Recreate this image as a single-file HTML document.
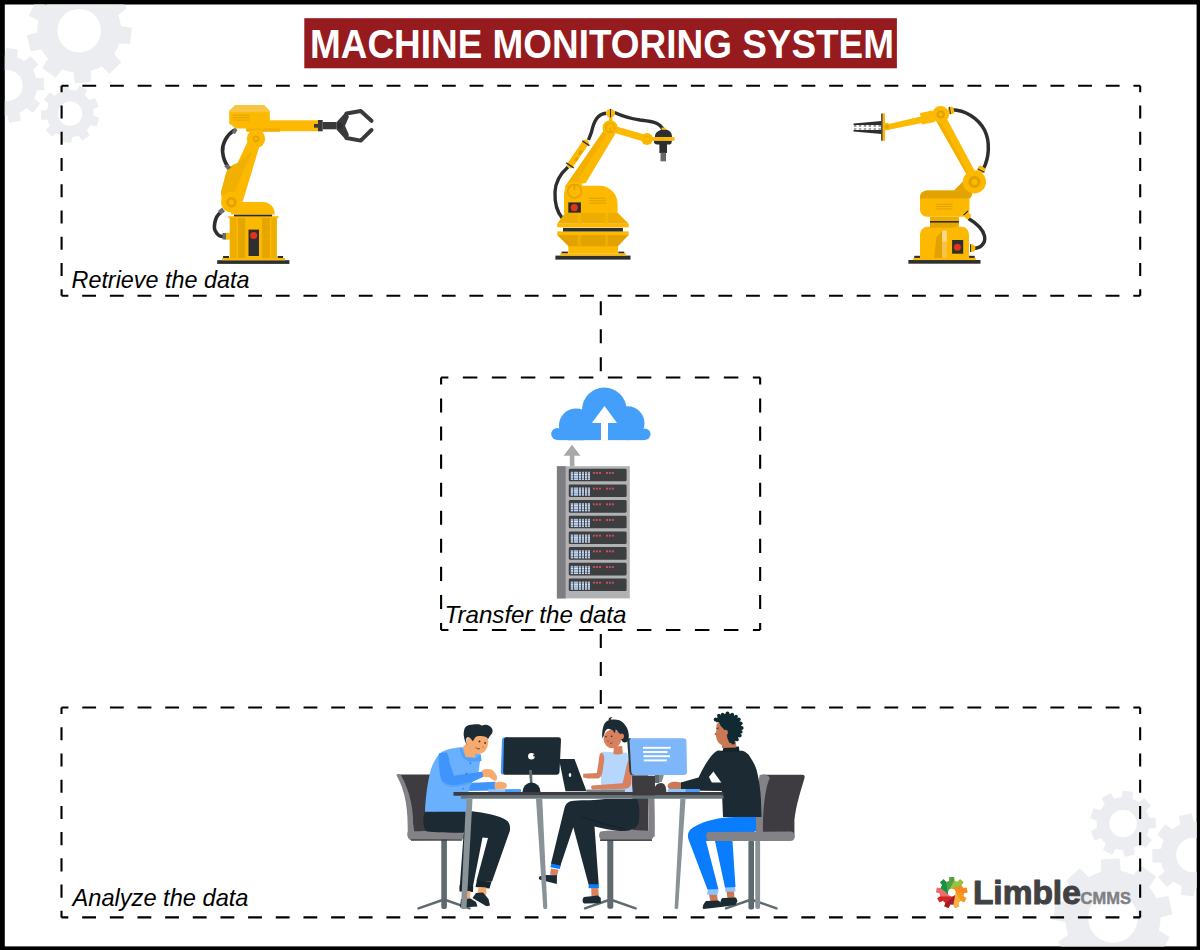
<!DOCTYPE html>
<html><head><meta charset="utf-8"><title>Machine Monitoring System</title>
<style>
html,body{margin:0;padding:0;background:#000;}
body{width:1200px;height:950px;overflow:hidden;position:relative;font-family:"Liberation Sans",sans-serif;}
#page{position:absolute;left:0;top:0;width:1200px;height:950px;}
svg text{font-family:"Liberation Sans",sans-serif;}
</style></head><body>
<svg id="page" width="1200" height="950" viewBox="0 0 1200 950">
<rect x="0" y="0" width="1200" height="950" fill="#000"/>
<rect x="4.8" y="4.5" width="1191.8" height="941.9" fill="#fff"/>
<g clip-path="url(#inner)">
<path fill="#ecedf0" fill-rule="evenodd" d="M120.95 26.1L131.76 27.8 L130.11 44.11 L119.17 43.61A42 42 0 0 1 114.14 54.01L121.33 62.26 L109.57 73.7 L101.52 66.28A42 42 0 0 1 90.98 71.01L91.19 81.96 L74.83 83.16 L73.43 72.3A42 42 0 0 1 62.31 69.16L55.43 77.67 L42.13 68.08 L48.04 58.86A42 42 0 0 1 41.55 49.31L30.8 51.41 L26.78 35.51 L37.23 32.24A42 42 0 0 1 38.4 20.75L28.81 15.45 L35.95 0.69 L46.06 4.9A42 42 0 0 1 54.34 -3.15L50.4 -13.37 L65.36 -20.09 L70.39 -10.37A42 42 0 0 1 81.91 -11.21L85.47 -21.57 L101.25 -17.1 L98.85 -6.42A42 42 0 0 1 108.22 0.34L117.6 -5.31 L126.82 8.25 L118.11 14.89A42 42 0 0 1 120.95 26.1 ZM57.4 30.7 A21.8 21.8 0 1 0 101 30.7 A21.8 21.8 0 1 0 57.4 30.7 Z"/>
<path fill="#ecedf0" fill-rule="evenodd" d="M36.16 77.93L43.99 78.02 L44.5 89.74 L36.71 90.51A30.03 30.03 0 0 1 34.23 98.38L40.17 103.48 L33.03 112.79 L26.57 108.37A30.03 30.03 0 0 1 19.6 112.81L20.87 120.53 L9.42 123.07 L7.31 115.53A30.03 30.03 0 0 1 -0.88 114.45L-4.87 121.19 L-15.27 115.77 L-12.04 108.64A30.03 30.03 0 0 1 -17.62 102.55L-25.01 105.14 L-29.49 94.31 L-22.44 90.92A30.03 30.03 0 0 1 -22.8 82.67L-30.12 79.91 L-26.6 68.73 L-19.01 70.67A30.03 30.03 0 0 1 -13.98 64.12L-17.82 57.29 L-7.93 50.99 L-3.37 57.35A30.03 30.03 0 0 1 4.69 55.57L6.14 47.87 L17.77 49.4 L17.17 57.21A30.03 30.03 0 0 1 24.5 61.02L30.55 56.06 L38.47 64.7 L33 70.3A30.03 30.03 0 0 1 36.16 77.93 ZM-8.49 85.5 A15.59 15.59 0 1 0 22.69 85.5 A15.59 15.59 0 1 0 -8.49 85.5 Z"/>
<path fill="#ecedf0" fill-rule="evenodd" d="M93.53 115.61L99.29 117.72 L96.61 126.51 L90.65 125.04A23.52 23.52 0 0 1 86.76 130.2L89.81 135.52 L82.11 140.52 L78.49 135.57A23.52 23.52 0 0 1 72.19 137.03L71.11 143.06 L61.99 141.94 L62.41 135.83A23.52 23.52 0 0 1 56.64 132.89L51.93 136.82 L45.67 130.1 L49.92 125.68A23.52 23.52 0 0 1 47.39 119.72L41.26 119.71 L40.78 110.54 L46.88 109.88A23.52 23.52 0 0 1 48.77 103.7L44.08 99.74 L49.61 92.41 L54.7 95.82A23.52 23.52 0 0 1 60.12 92.3L59.08 86.26 L68.02 84.19 L69.73 90.08A23.52 23.52 0 0 1 76.15 90.87L79.23 85.57 L87.41 89.74 L84.93 95.35A23.52 23.52 0 0 1 89.34 100.08L95.11 97.99 L98.7 106.45 L93.2 109.15A23.52 23.52 0 0 1 93.53 115.61 ZM57.89 113.6 A12.21 12.21 0 1 0 82.31 113.6 A12.21 12.21 0 1 0 57.89 113.6 Z"/>
<path fill="#ecedf0" fill-rule="evenodd" d="M1148.82 817.38L1155.71 817.58 L1155.98 827.91 L1149.11 828.46A26.46 26.46 0 0 1 1146.8 835.37L1151.95 839.95 L1145.52 848.04 L1139.9 844.04A26.46 26.46 0 0 1 1133.69 847.85L1134.69 854.67 L1124.57 856.73 L1122.83 850.06A26.46 26.46 0 0 1 1115.63 848.98L1112.01 854.86 L1102.93 849.93 L1105.88 843.69A26.46 26.46 0 0 1 1101.06 838.24L1094.51 840.41 L1090.73 830.8 L1097 827.92A26.46 26.46 0 0 1 1096.81 820.65L1090.39 818.1 L1093.67 808.31 L1100.32 810.13A26.46 26.46 0 0 1 1104.85 804.44L1101.58 798.37 L1110.39 792.97 L1114.31 798.64A26.46 26.46 0 0 1 1121.44 797.19L1122.83 790.44 L1133.05 791.96 L1132.41 798.83A26.46 26.46 0 0 1 1138.8 802.3L1144.21 798.02 L1151.06 805.76 L1146.15 810.61A26.46 26.46 0 0 1 1148.82 817.38 ZM1109.37 823.6 A13.73 13.73 0 1 0 1136.83 823.6 A13.73 13.73 0 1 0 1109.37 823.6 Z"/>
<path fill="#ecedf0" fill-rule="evenodd" d="M1161.14 862.74L1152.49 862.48 L1152.17 849.53 L1160.8 848.84A33.18 33.18 0 0 1 1163.71 840.19L1157.25 834.43 L1165.34 824.31 L1172.38 829.33A33.18 33.18 0 0 1 1180.17 824.57L1178.93 816.01 L1191.63 813.45 L1193.8 821.82A33.18 33.18 0 0 1 1202.83 823.19L1207.38 815.83 L1218.75 822.03 L1215.03 829.84A33.18 33.18 0 0 1 1221.07 836.69L1229.28 833.98 L1234.01 846.04 L1226.14 849.63A33.18 33.18 0 0 1 1226.37 858.76L1234.4 861.96 L1230.27 874.24 L1221.93 871.94A33.18 33.18 0 0 1 1216.24 879.07L1220.33 886.69 L1209.27 893.44 L1204.37 886.31A33.18 33.18 0 0 1 1195.42 888.12L1193.66 896.59 L1180.85 894.65 L1181.67 886.04A33.18 33.18 0 0 1 1173.66 881.67L1166.87 887.03 L1158.3 877.31 L1164.47 871.24A33.18 33.18 0 0 1 1161.14 862.74 ZM1176.18 855 A17.22 17.22 0 1 0 1210.62 855 A17.22 17.22 0 1 0 1176.18 855 Z"/>
<path fill="#ecedf0" fill-rule="evenodd" d="M1100.81 871.89L1100.93 859.46 L1119.52 858.62 L1120.76 870.98A47.67 47.67 0 0 1 1133.28 874.9L1141.35 865.46 L1156.14 876.77 L1149.15 887.04A47.67 47.67 0 0 1 1156.21 898.08L1168.47 896.04 L1172.53 914.21 L1160.57 917.58A47.67 47.67 0 0 1 1158.88 930.58L1169.58 936.9 L1161.02 953.42 L1149.69 948.32A47.67 47.67 0 0 1 1140.03 957.19L1144.17 968.91 L1126.99 976.06 L1121.59 964.87A47.67 47.67 0 0 1 1108.49 965.47L1104.13 977.1 L1086.37 971.54 L1089.43 959.49A47.67 47.67 0 0 1 1079.01 951.53L1068.19 957.64 L1058.16 941.96 L1068.25 934.7A47.67 47.67 0 0 1 1065.39 921.9L1053.17 919.63 L1055.57 901.17 L1067.96 902.09A47.67 47.67 0 0 1 1074 890.45L1066.1 880.86 L1079.8 868.26 L1088.7 876.93A47.67 47.67 0 0 1 1100.81 871.89 ZM1088.16 918 A24.74 24.74 0 1 0 1137.64 918 A24.74 24.74 0 1 0 1088.16 918 Z"/>
</g>
<clipPath id="inner"><rect x="4.8" y="4.5" width="1191.8" height="941.9"/></clipPath>
<rect x="304.3" y="18.2" width="592.6" height="50.1" fill="#961b1f"/>
<text x="602" y="57.5" text-anchor="middle" font-size="40" font-weight="bold" fill="#fff" textLength="584" lengthAdjust="spacingAndGlyphs">MACHINE MONITORING SYSTEM</text>
<g stroke="#000" stroke-width="2.1" fill="none">
<line x1="61.6" y1="85.8" x2="1140.2" y2="85.8" stroke-dasharray="13.83 13.83" stroke-dashoffset="6.91"/>
<line x1="1140.2" y1="85.8" x2="1140.2" y2="295.7" stroke-dasharray="13.12 13.12" stroke-dashoffset="6.56"/>
<line x1="1140.2" y1="295.7" x2="61.6" y2="295.7" stroke-dasharray="13.83 13.83" stroke-dashoffset="6.91"/>
<line x1="61.6" y1="295.7" x2="61.6" y2="85.8" stroke-dasharray="13.12 13.12" stroke-dashoffset="6.56"/>
<line x1="441.1" y1="377.5" x2="760.15" y2="377.5" stroke-dasharray="14.5 14.5" stroke-dashoffset="7.25"/>
<line x1="760.15" y1="377.5" x2="760.15" y2="630" stroke-dasharray="14.03 14.03" stroke-dashoffset="7.01"/>
<line x1="760.15" y1="630" x2="441.1" y2="630" stroke-dasharray="14.5 14.5" stroke-dashoffset="7.25"/>
<line x1="441.1" y1="630" x2="441.1" y2="377.5" stroke-dasharray="14.03 14.03" stroke-dashoffset="7.01"/>
<line x1="61.5" y1="707.5" x2="1140.15" y2="707.5" stroke-dasharray="13.83 13.83" stroke-dashoffset="6.91"/>
<line x1="1140.15" y1="707.5" x2="1140.15" y2="917.4" stroke-dasharray="13.12 13.12" stroke-dashoffset="6.56"/>
<line x1="1140.15" y1="917.4" x2="61.5" y2="917.4" stroke-dasharray="13.83 13.83" stroke-dashoffset="6.91"/>
<line x1="61.5" y1="917.4" x2="61.5" y2="707.5" stroke-dasharray="13.12 13.12" stroke-dashoffset="6.56"/>
<line x1="600.8" y1="301.3" x2="600.8" y2="371.3" stroke-dasharray="14 14"/>
<line x1="600.8" y1="634" x2="600.8" y2="704" stroke-dasharray="14 14"/>
</g>
<text x="71.5" y="287.6" font-size="24" font-style="italic" fill="#000" textLength="178" lengthAdjust="spacingAndGlyphs">Retrieve the data</text>
<text x="444.5" y="622.5" font-size="24" font-style="italic" fill="#000" textLength="182" lengthAdjust="spacingAndGlyphs">Transfer the data</text>
<text x="72.5" y="905.8" font-size="24" font-style="italic" fill="#000" textLength="176" lengthAdjust="spacingAndGlyphs">Analyze the data</text>
<g id="robot1">
<!-- cables -->
<path d="M234.5 130 C226.5 135 221.8 144 222.6 152 C223.3 158 225.3 163 227.6 166" fill="none" stroke="#2e2e30" stroke-width="3.6"/>
<path d="M220.8 212.5 C214 217 213.2 229 216 232 C217.5 235 220 236.5 223 236.5" fill="none" stroke="#2e2e30" stroke-width="3.6"/>
<!-- base plate -->
<rect x="217.2" y="260.2" width="72.2" height="3.7" fill="#2e2e30"/>
<rect x="223.1" y="256" width="5.9" height="2.2" fill="#2e2e30"/>
<rect x="277.6" y="256" width="5.5" height="2.2" fill="#2e2e30"/>
<rect x="222" y="258" width="63" height="2.3" fill="#fcb900"/>
<!-- column -->
<rect x="229.7" y="217.8" width="47.2" height="40.3" fill="#efad00"/>
<rect x="236.4" y="217.8" width="1.8" height="40.3" fill="#fcb900"/>
<rect x="238.2" y="217.8" width="7" height="40.3" fill="#e6a600"/>
<rect x="245.2" y="217.8" width="16.9" height="40.3" fill="#fcb900"/>
<rect x="262.1" y="217.8" width="7.8" height="40.3" fill="#e6a600"/>
<rect x="269.9" y="217.8" width="1.5" height="40.3" fill="#fcb900"/>
<rect x="228.3" y="216.2" width="50.1" height="1.9" fill="#fcb900"/>
<rect x="234" y="214.4" width="38.1" height="2" fill="#2e2e30"/>
<rect x="248.5" y="229.6" width="10.5" height="26.4" fill="#2e2e30"/>
<circle cx="253.7" cy="235.4" r="3.5" fill="#e0341e"/>
<rect x="224.6" y="232.9" width="5.2" height="6.7" fill="#fcb900"/>
<!-- cable caps -->
<path d="M222.5 233 L226 233 L226 239.5 L222.5 239.5 Z" fill="#6b6b6d"/>
<path d="M218 211 L222 207.5 L225 211.5 L221 214.5 Z" fill="#6b6b6d"/>
<!-- turret dome -->
<path d="M231.2 214.5 L231.2 202 L263 202 A11.7 11.7 0 0 1 274.7 213.7 L274.7 214.5 Z" fill="#fcb900"/>
<!-- lower arm -->
<path d="M247.9 141 L259.3 146.8 L242.7 201.8 L222 203 L221 192 L226.3 172.5 C227.5 168.8 230.5 166 233.5 164.8 L237.5 162.9 Z" fill="#fcb900"/>
<path d="M226.3 172.5 C227.5 168.8 230.5 166 233.5 164.8 L237.5 162.9 L251.7 151.5 L235.1 191.4 L222 196 L221 192 Z" fill="#f2b000"/>
<circle cx="231.4" cy="202.2" r="10.4" fill="#fcb900"/>
<circle cx="231.4" cy="202.2" r="3.9" fill="none" stroke="#e2a300" stroke-width="2.6"/>
<!-- head + forearm -->
<rect x="246" y="120.3" width="72" height="10.9" fill="#fcb900"/>
<rect x="247" y="128.2" width="33" height="3.6" fill="#f0ae00"/>
<path d="M235.3 105.1 L263.9 105.1 L269.8 111 L269.8 123.6 L262 128.5 L236 128.5 L229.2 123.6 L229.2 111 Z" fill="#fcb900"/>
<path d="M235.3 105.1 L263.9 105.1 L269.8 111 L269.8 112.3 L229.2 112.3 L229.2 111 Z" fill="#f8c544"/>
<g stroke="#e2a300" stroke-width="1"><line x1="232.8" y1="115.2" x2="249.6" y2="115.2"/><line x1="232.8" y1="117.6" x2="249.6" y2="117.6"/><line x1="232.8" y1="120.1" x2="249.6" y2="120.1"/></g>
<circle cx="256" cy="138.7" r="9.2" fill="#fcb900"/>
<circle cx="256" cy="138.7" r="2.5" fill="none" stroke="#e2a300" stroke-width="1.4"/>
<path d="M231.8 132.6 L234.5 127.4 L237.5 130 L235 134 Z" fill="#6b6b6d"/>
<path d="M224.2 166 L228 163.9 L231.3 167.5 L227.5 170 Z" fill="#6b6b6d"/>
<!-- gripper -->
<rect x="318" y="120" width="4.7" height="11.3" fill="#3a3a3c"/>
<rect x="314" y="124" width="5" height="3.7" fill="#3a3a3c"/>
<rect x="322.7" y="122" width="14" height="7.3" fill="#3a3a3c"/>
<path d="M336.7 122 L346 111.7 L349 116.7 L345 125.7 L349 135 L346 140 L336.7 129.7 Z" fill="#3a3a3c"/>
<path d="M346.5 113.5 L360.7 111 L371.5 120.8" fill="none" stroke="#3a3a3c" stroke-width="4" stroke-linecap="round" stroke-linejoin="round"/>
<path d="M346.5 138 L360.7 140.6 L371.5 130" fill="none" stroke="#3a3a3c" stroke-width="4" stroke-linecap="round" stroke-linejoin="round"/>
<circle cx="339.7" cy="125.7" r="3" fill="#2e2e30"/>
</g>

<g id="robot2">
<!-- cables -->
<path d="M606.3 113.3 C598 114 594 120 591.5 132 L588.5 140" fill="none" stroke="#2e2e30" stroke-width="3.4"/>
<path d="M568 167 C560 174 555.5 181 555 192 C554.5 204 557 212 562.5 218.5" fill="none" stroke="#2e2e30" stroke-width="3.4"/>
<path d="M614.5 112.5 C622 116 630 118.5 640 120 C652 121.5 660 122 663.2 130" fill="none" stroke="#2e2e30" stroke-width="3.4"/>
<!-- base plate -->
<rect x="555.4" y="255.6" width="75.1" height="4" fill="#2e2e30"/>
<rect x="561.6" y="251.6" width="6.3" height="2" fill="#2e2e30"/>
<rect x="618.4" y="251.6" width="5.9" height="2" fill="#2e2e30"/>
<rect x="560.3" y="253.4" width="65.7" height="2.3" fill="#fcb900"/>
<!-- lower base -->
<rect x="568.3" y="246" width="49.7" height="7.5" fill="#fcb900"/>
<path d="M557.2 235 L628.7 235 L618 246.2 L568.3 246.2 Z" fill="#e2a300"/>
<rect x="577.7" y="235" width="3.2" height="11.2" fill="#efad00"/>
<rect x="605" y="235" width="3.2" height="11.2" fill="#efad00"/>
<rect x="557.2" y="231.4" width="71.5" height="3.7" fill="#fcb900"/>
<rect x="563" y="227.9" width="59.9" height="3.6" fill="#2e2e30"/>
<!-- upper base -->
<rect x="557.2" y="223.8" width="71.5" height="3.6" fill="#fcb900"/>
<path d="M565 213.1 L618 213.1 L628.7 223.8 L557.2 223.8 Z" fill="#efad00"/>
<rect x="577.7" y="213.1" width="3.2" height="10.7" fill="#f7b500"/>
<rect x="605" y="213.1" width="3.2" height="10.7" fill="#f7b500"/>
<!-- turret body -->
<path d="M564 213.1 L564 192 L574 185.8 L599.6 185.8 A18 18 0 0 1 617.6 203.8 L617.6 213.1 Z" fill="#fcb900"/>
<g stroke="#e2a300" stroke-width="1.1"><line x1="588.9" y1="198.3" x2="605.9" y2="198.3"/><line x1="588.9" y1="200.7" x2="605.9" y2="200.7"/><line x1="588.9" y1="203.1" x2="605.9" y2="203.1"/></g>
<rect x="568.3" y="202.4" width="12.6" height="10.3" fill="#2e2e30"/>
<circle cx="574.3" cy="207.6" r="3.6" fill="#e0341e"/>
<!-- lower arm -->
<path d="M564.6 187.3 L603.1 131.5 L615 134.3 L585.8 183 Z" fill="#fcb900"/>
<path d="M564.6 187.3 L603.1 131.5 L608 132.6 L574 186 Z" fill="#f4b000"/>
<circle cx="574.5" cy="191.2" r="9.9" fill="#fcb900"/>
<circle cx="574.5" cy="191.2" r="6.8" fill="none" stroke="#e2a300" stroke-width="1.5"/>
<line x1="574.5" y1="184.4" x2="574.5" y2="190" stroke="#e2a300" stroke-width="1.5"/>
<!-- cable sleeve -->
<line x1="585.5" y1="143" x2="570.3" y2="164.9" stroke="#fcb900" stroke-width="6.6" stroke-linecap="round"/>
<line x1="581.6" y1="150.6" x2="578.9" y2="154.5" stroke="#e2a300" stroke-width="3"/>
<line x1="577.6" y1="157.5" x2="575.2" y2="161" stroke="#e2a300" stroke-width="3"/>
<line x1="582.3" y1="140.9" x2="589.4" y2="145.6" stroke="#2e2e30" stroke-width="1.3"/>
<line x1="566.2" y1="162.7" x2="573.7" y2="167.9" stroke="#2e2e30" stroke-width="1.3"/>
<!-- top connector -->
<rect x="609" y="115" width="3.3" height="8" fill="#fcb900"/>
<ellipse cx="610.5" cy="113.2" rx="4.4" ry="4.2" fill="#fcb900"/>
<line x1="610.5" y1="109" x2="610.5" y2="117.4" stroke="#2e2e30" stroke-width="1.1"/>
<!-- forearm -->
<path d="M609.5 124.5 L648 135.5 L646 142.2 L608 131 Z" fill="#fcb900"/>
<circle cx="610.1" cy="127.8" r="7.6" fill="#fcb900"/>
<circle cx="610.1" cy="127.8" r="4.6" fill="none" stroke="#e2a300" stroke-width="1.1"/>
<line x1="610.1" y1="128" x2="610.1" y2="132.4" stroke="#e2a300" stroke-width="1.1"/>
<!-- end effector -->
<path d="M655 137 C655 133 657 131.5 659.5 130.5 C661 129.5 662.5 129.2 664 129.2 C666 129.2 668 130 670 131.5 C671.5 133 672 135 672 137 Z" fill="#2e2e30"/>
<path d="M654 140.5 L672 140.5 L671.5 143 C671 144 670 144.5 668.5 144.5 L657 144.5 C655.5 144.5 654.5 143.5 654 142.5 Z" fill="#2e2e30"/>
<rect x="661.5" y="127.6" width="4" height="2.2" fill="#fcb900"/>
<rect x="659.4" y="144" width="7.6" height="9" fill="#2e2e30"/>
<rect x="660.5" y="152.7" width="5.5" height="8.6" fill="#68686a"/>
<path d="M650 137 L673 137 A1.9 1.9 0 0 1 673 140.8 L650 140.8 Z" fill="#fcb900"/>
<rect x="661.5" y="137" width="1.6" height="3.8" fill="#efad00"/>
<circle cx="647" cy="139.1" r="6" fill="#fcb900"/>
<circle cx="647" cy="139.1" r="3" fill="none" stroke="#efad00" stroke-width="1"/>
</g>

<g id="robot3">
<!-- cables -->
<path d="M952 109.8 C965 110 978 118 984.5 130 C990.5 142 989 158 983.5 168.5" fill="none" stroke="#2e2e30" stroke-width="3.5"/>
<path d="M968.5 218.5 C976 223 983 229 984.5 236 C986 244 980 248.5 973 248.5" fill="none" stroke="#2e2e30" stroke-width="3.5"/>
<!-- base plate -->
<rect x="908.4" y="260" width="72.1" height="3.7" fill="#2e2e30"/>
<rect x="914.2" y="255.8" width="5.8" height="2.2" fill="#2e2e30"/>
<rect x="969" y="255.8" width="5.7" height="2.2" fill="#2e2e30"/>
<rect x="913.2" y="257.9" width="62.6" height="2.2" fill="#fcb900"/>
<!-- lower body -->
<path d="M920 257.9 L920 234.2 A7.4 7.4 0 0 1 927.4 226.8 L961.6 226.8 A7.4 7.4 0 0 1 969 234.2 L969 257.9 Z" fill="#fcb900"/>
<path d="M936.3 237.4 L942.1 231 L942.1 257.9 L934.2 257.9 Z" fill="#e2a300"/>
<rect x="942.1" y="230.5" width="4.7" height="27.4" fill="#f5c24c"/>
<rect x="942.1" y="230.5" width="4.7" height="11" fill="#f9d888"/>
<rect x="952.1" y="240" width="11.1" height="13.7" fill="#2e2e30"/>
<circle cx="957.4" cy="247.2" r="3.5" fill="#e0341e"/>
<!-- connector at lower cable end -->
<path d="M970 244.2 L972 244.2 A4 4 0 0 1 972 252.1 L970 252.1 Z" fill="#fcb900"/>
<line x1="970.6" y1="244.3" x2="970.6" y2="252" stroke="#2e2e30" stroke-width="1"/>
<!-- neck -->
<rect x="930" y="216.8" width="28.9" height="10.6" fill="#efad00"/>
<path d="M930 222.6 L958.9 222.6 L958.9 224 L952 227.4 L930 227.4 Z" fill="#e6a600"/>
<rect x="930" y="221" width="28.9" height="1.6" fill="#2e2e30"/>
<!-- shoulder link -->
<path d="M953.5 191 L963.1 181.2 L975 186 L971 197.5 L962 199 Z" fill="#e2a300"/>
<!-- upper body -->
<rect x="920" y="190.5" width="49.5" height="26.3" rx="7" fill="#fcb900"/>
<path d="M920 198.4 L920 197.5 A7 7 0 0 1 927 190.5 L962.5 190.5 A7 7 0 0 1 969.5 197.5 L969.5 198.4 Z" fill="#e2a300"/>
<g stroke="#e2a300" stroke-width="1.1"><line x1="936.3" y1="204.2" x2="952.6" y2="204.2"/><line x1="936.3" y1="206.5" x2="952.6" y2="206.5"/><line x1="936.3" y1="208.9" x2="952.6" y2="208.9"/></g>
<!-- lower cable connector -->
<rect x="963.2" y="212.3" width="7.6" height="6" rx="2.2" fill="#fcb900" transform="rotate(40 967 215.3)"/>
<line x1="963.6" y1="215.2" x2="968" y2="211" stroke="#2e2e30" stroke-width="1.1"/>
<!-- upper arm -->
<path d="M935 118.75 L946.9 118.75 L976.25 173.75 L966.25 173.75 Z" fill="#fcb900"/>
<path d="M935 118.75 L939.5 118.75 L969.5 175 L966.25 173.75 Z" fill="#f4b000"/>
<circle cx="974.4" cy="181.9" r="11.6" fill="#fcb900"/>
<circle cx="974.4" cy="181.9" r="4.5" fill="none" stroke="#e2a300" stroke-width="3.2"/>
<!-- upper cable connector -->
<rect x="977.5" y="166.5" width="7.6" height="6" rx="2.2" fill="#fcb900" transform="rotate(25 981.3 169.5)"/>
<line x1="977.8" y1="168.9" x2="984.5" y2="172.2" stroke="#2e2e30" stroke-width="1.1"/>
<!-- forearm -->
<path d="M921.9 116.25 L886.25 124.4 L887.5 130 L921.9 123.1 Z" fill="#fcb900"/>
<path d="M920 113.1 L932.5 110.6 L935 121.9 L921.9 124.4 Z" fill="#fcb900"/>
<circle cx="940.6" cy="114.4" r="8.4" fill="#fcb900"/>
<circle cx="940.6" cy="114.4" r="3" fill="none" stroke="#e2a300" stroke-width="2.2"/>
<rect x="948" y="106.8" width="6" height="7.4" rx="2.2" fill="#fcb900" transform="rotate(-10 951 110.5)"/>
<line x1="949.3" y1="106.9" x2="950.5" y2="114" stroke="#2e2e30" stroke-width="1.1"/>
<!-- gripper -->
<path d="M853.5 123.4 L881.5 120.9 L881.5 124.9 L853.5 124.9 Z" fill="#2e2e30"/>
<path d="M853.5 129.9 L881.5 129.9 L881.5 133.9 L853.5 131.6 Z" fill="#2e2e30"/>
<line x1="854" y1="125.9" x2="881.5" y2="125.9" stroke="#8a8a8c" stroke-width="1.6" stroke-dasharray="2.4 2.5"/>
<line x1="854" y1="129" x2="881.5" y2="129" stroke="#8a8a8c" stroke-width="1.6" stroke-dasharray="2.4 2.5"/>
<rect x="881.2" y="113.5" width="1.6" height="27.2" fill="#2e2e30"/>
<rect x="882.7" y="113.5" width="2.4" height="27.2" fill="#fcb900"/>
<circle cx="886.6" cy="126.7" r="3.6" fill="#fcb900"/>
<circle cx="886.8" cy="126.8" r="2.3" fill="#e6a600"/>
</g>

<g id="cloud">
<clipPath id="cloudclip"><rect x="540" y="380" width="120" height="60.2"/></clipPath>
<g fill="#449ffb" clip-path="url(#cloudclip)">
<circle cx="557.2" cy="434" r="6"/>
<circle cx="644.8" cy="434.3" r="5.7"/>
<circle cx="576" cy="425.6" r="17.1"/>
<circle cx="604.3" cy="409.8" r="22.3"/>
<circle cx="627.4" cy="423.3" r="17.1"/>
<rect x="557" y="429.5" width="88" height="11"/><rect x="572" y="418" width="60" height="22"/>
</g>
<path d="M604.5 406 L617 423 L608 423 L608 440.5 L601 440.5 L601 423 L591.8 423 Z" fill="#fff"/>
<path d="M572 444.8 L580.5 455.7 L574.4 455.7 L574.4 466.5 L569.8 466.5 L569.8 455.7 L563.5 455.7 Z" fill="#a9a9ab"/>
</g>

<g id="server">
<rect x="556.9" y="466.2" width="72.9" height="132.2" fill="#b1b2b4"/>
<rect x="556.9" y="466.2" width="8.7" height="132.2" fill="#7d7d81"/>
<rect x="568.8" y="468.70" width="57.8" height="12.6" rx="1.3" fill="#3e3d40"/><rect x="570.75" y="471.75" width="2.35" height="1.95" fill="#a3b9d5"/><rect x="570.75" y="473.70" width="2.35" height="1.50" fill="#cfe4fd"/><rect x="570.75" y="475.40" width="2.35" height="2.70" fill="#b2cae8"/><rect x="570.75" y="478.40" width="2.35" height="1.60" fill="#bcd3f0"/><rect x="573.90" y="471.75" width="4.20" height="1.95" fill="#a3b9d5"/><rect x="573.90" y="473.70" width="4.20" height="1.50" fill="#cfe4fd"/><rect x="573.90" y="475.40" width="4.20" height="2.70" fill="#b2cae8"/><rect x="573.90" y="478.40" width="4.20" height="1.60" fill="#bcd3f0"/><rect x="578.90" y="471.75" width="2.10" height="1.95" fill="#a3b9d5"/><rect x="578.90" y="473.70" width="2.10" height="1.50" fill="#cfe4fd"/><rect x="578.90" y="475.40" width="2.10" height="2.70" fill="#b2cae8"/><rect x="578.90" y="478.40" width="2.10" height="1.60" fill="#bcd3f0"/><rect x="581.90" y="471.75" width="2.10" height="1.95" fill="#a3b9d5"/><rect x="581.90" y="473.70" width="2.10" height="1.50" fill="#cfe4fd"/><rect x="581.90" y="475.40" width="2.10" height="2.70" fill="#b2cae8"/><rect x="581.90" y="478.40" width="2.10" height="1.60" fill="#bcd3f0"/><rect x="585.00" y="471.75" width="2.10" height="1.95" fill="#a3b9d5"/><rect x="585.00" y="473.70" width="2.10" height="1.50" fill="#cfe4fd"/><rect x="585.00" y="475.40" width="2.10" height="2.70" fill="#b2cae8"/><rect x="585.00" y="478.40" width="2.10" height="1.60" fill="#bcd3f0"/><rect x="587.90" y="471.75" width="2.10" height="1.95" fill="#a3b9d5"/><rect x="587.90" y="473.70" width="2.10" height="1.50" fill="#cfe4fd"/><rect x="587.90" y="475.40" width="2.10" height="2.70" fill="#b2cae8"/><rect x="587.90" y="478.40" width="2.10" height="1.60" fill="#bcd3f0"/><rect x="592.90" y="472.00" width="2" height="1.9" fill="#bd565b"/><rect x="595.90" y="472.00" width="2" height="1.9" fill="#c2545a"/><rect x="599.00" y="472.00" width="2" height="1.9" fill="#c2545a"/><rect x="606.00" y="472.00" width="2" height="1.9" fill="#c2545a"/><rect x="608.90" y="472.00" width="2" height="1.9" fill="#c2545a"/><rect x="611.90" y="472.00" width="2" height="1.9" fill="#c2545a"/>
<rect x="568.8" y="484.38" width="57.8" height="12.6" rx="1.3" fill="#3e3d40"/><rect x="570.75" y="487.43" width="2.35" height="1.95" fill="#a3b9d5"/><rect x="570.75" y="489.38" width="2.35" height="1.50" fill="#cfe4fd"/><rect x="570.75" y="491.08" width="2.35" height="2.70" fill="#b2cae8"/><rect x="570.75" y="494.08" width="2.35" height="1.60" fill="#bcd3f0"/><rect x="573.90" y="487.43" width="4.20" height="1.95" fill="#a3b9d5"/><rect x="573.90" y="489.38" width="4.20" height="1.50" fill="#cfe4fd"/><rect x="573.90" y="491.08" width="4.20" height="2.70" fill="#b2cae8"/><rect x="573.90" y="494.08" width="4.20" height="1.60" fill="#bcd3f0"/><rect x="578.90" y="487.43" width="2.10" height="1.95" fill="#a3b9d5"/><rect x="578.90" y="489.38" width="2.10" height="1.50" fill="#cfe4fd"/><rect x="578.90" y="491.08" width="2.10" height="2.70" fill="#b2cae8"/><rect x="578.90" y="494.08" width="2.10" height="1.60" fill="#bcd3f0"/><rect x="581.90" y="487.43" width="2.10" height="1.95" fill="#a3b9d5"/><rect x="581.90" y="489.38" width="2.10" height="1.50" fill="#cfe4fd"/><rect x="581.90" y="491.08" width="2.10" height="2.70" fill="#b2cae8"/><rect x="581.90" y="494.08" width="2.10" height="1.60" fill="#bcd3f0"/><rect x="585.00" y="487.43" width="2.10" height="1.95" fill="#a3b9d5"/><rect x="585.00" y="489.38" width="2.10" height="1.50" fill="#cfe4fd"/><rect x="585.00" y="491.08" width="2.10" height="2.70" fill="#b2cae8"/><rect x="585.00" y="494.08" width="2.10" height="1.60" fill="#bcd3f0"/><rect x="587.90" y="487.43" width="2.10" height="1.95" fill="#a3b9d5"/><rect x="587.90" y="489.38" width="2.10" height="1.50" fill="#cfe4fd"/><rect x="587.90" y="491.08" width="2.10" height="2.70" fill="#b2cae8"/><rect x="587.90" y="494.08" width="2.10" height="1.60" fill="#bcd3f0"/><rect x="592.90" y="487.68" width="2" height="1.9" fill="#bd565b"/><rect x="595.90" y="487.68" width="2" height="1.9" fill="#c2545a"/><rect x="599.00" y="487.68" width="2" height="1.9" fill="#c2545a"/><rect x="606.00" y="487.68" width="2" height="1.9" fill="#c2545a"/><rect x="608.90" y="487.68" width="2" height="1.9" fill="#c2545a"/><rect x="611.90" y="487.68" width="2" height="1.9" fill="#c2545a"/>
<rect x="568.8" y="500.06" width="57.8" height="12.6" rx="1.3" fill="#3e3d40"/><rect x="570.75" y="503.11" width="2.35" height="1.95" fill="#a3b9d5"/><rect x="570.75" y="505.06" width="2.35" height="1.50" fill="#cfe4fd"/><rect x="570.75" y="506.76" width="2.35" height="2.70" fill="#b2cae8"/><rect x="570.75" y="509.76" width="2.35" height="1.60" fill="#bcd3f0"/><rect x="573.90" y="503.11" width="4.20" height="1.95" fill="#a3b9d5"/><rect x="573.90" y="505.06" width="4.20" height="1.50" fill="#cfe4fd"/><rect x="573.90" y="506.76" width="4.20" height="2.70" fill="#b2cae8"/><rect x="573.90" y="509.76" width="4.20" height="1.60" fill="#bcd3f0"/><rect x="578.90" y="503.11" width="2.10" height="1.95" fill="#a3b9d5"/><rect x="578.90" y="505.06" width="2.10" height="1.50" fill="#cfe4fd"/><rect x="578.90" y="506.76" width="2.10" height="2.70" fill="#b2cae8"/><rect x="578.90" y="509.76" width="2.10" height="1.60" fill="#bcd3f0"/><rect x="581.90" y="503.11" width="2.10" height="1.95" fill="#a3b9d5"/><rect x="581.90" y="505.06" width="2.10" height="1.50" fill="#cfe4fd"/><rect x="581.90" y="506.76" width="2.10" height="2.70" fill="#b2cae8"/><rect x="581.90" y="509.76" width="2.10" height="1.60" fill="#bcd3f0"/><rect x="585.00" y="503.11" width="2.10" height="1.95" fill="#a3b9d5"/><rect x="585.00" y="505.06" width="2.10" height="1.50" fill="#cfe4fd"/><rect x="585.00" y="506.76" width="2.10" height="2.70" fill="#b2cae8"/><rect x="585.00" y="509.76" width="2.10" height="1.60" fill="#bcd3f0"/><rect x="587.90" y="503.11" width="2.10" height="1.95" fill="#a3b9d5"/><rect x="587.90" y="505.06" width="2.10" height="1.50" fill="#cfe4fd"/><rect x="587.90" y="506.76" width="2.10" height="2.70" fill="#b2cae8"/><rect x="587.90" y="509.76" width="2.10" height="1.60" fill="#bcd3f0"/><rect x="592.90" y="503.36" width="2" height="1.9" fill="#bd565b"/><rect x="595.90" y="503.36" width="2" height="1.9" fill="#c2545a"/><rect x="599.00" y="503.36" width="2" height="1.9" fill="#c2545a"/><rect x="606.00" y="503.36" width="2" height="1.9" fill="#c2545a"/><rect x="608.90" y="503.36" width="2" height="1.9" fill="#c2545a"/><rect x="611.90" y="503.36" width="2" height="1.9" fill="#c2545a"/>
<rect x="568.8" y="515.74" width="57.8" height="12.6" rx="1.3" fill="#3e3d40"/><rect x="570.75" y="518.79" width="2.35" height="1.95" fill="#a3b9d5"/><rect x="570.75" y="520.74" width="2.35" height="1.50" fill="#cfe4fd"/><rect x="570.75" y="522.44" width="2.35" height="2.70" fill="#b2cae8"/><rect x="570.75" y="525.44" width="2.35" height="1.60" fill="#bcd3f0"/><rect x="573.90" y="518.79" width="4.20" height="1.95" fill="#a3b9d5"/><rect x="573.90" y="520.74" width="4.20" height="1.50" fill="#cfe4fd"/><rect x="573.90" y="522.44" width="4.20" height="2.70" fill="#b2cae8"/><rect x="573.90" y="525.44" width="4.20" height="1.60" fill="#bcd3f0"/><rect x="578.90" y="518.79" width="2.10" height="1.95" fill="#a3b9d5"/><rect x="578.90" y="520.74" width="2.10" height="1.50" fill="#cfe4fd"/><rect x="578.90" y="522.44" width="2.10" height="2.70" fill="#b2cae8"/><rect x="578.90" y="525.44" width="2.10" height="1.60" fill="#bcd3f0"/><rect x="581.90" y="518.79" width="2.10" height="1.95" fill="#a3b9d5"/><rect x="581.90" y="520.74" width="2.10" height="1.50" fill="#cfe4fd"/><rect x="581.90" y="522.44" width="2.10" height="2.70" fill="#b2cae8"/><rect x="581.90" y="525.44" width="2.10" height="1.60" fill="#bcd3f0"/><rect x="585.00" y="518.79" width="2.10" height="1.95" fill="#a3b9d5"/><rect x="585.00" y="520.74" width="2.10" height="1.50" fill="#cfe4fd"/><rect x="585.00" y="522.44" width="2.10" height="2.70" fill="#b2cae8"/><rect x="585.00" y="525.44" width="2.10" height="1.60" fill="#bcd3f0"/><rect x="587.90" y="518.79" width="2.10" height="1.95" fill="#a3b9d5"/><rect x="587.90" y="520.74" width="2.10" height="1.50" fill="#cfe4fd"/><rect x="587.90" y="522.44" width="2.10" height="2.70" fill="#b2cae8"/><rect x="587.90" y="525.44" width="2.10" height="1.60" fill="#bcd3f0"/><rect x="592.90" y="519.04" width="2" height="1.9" fill="#bd565b"/><rect x="595.90" y="519.04" width="2" height="1.9" fill="#c2545a"/><rect x="599.00" y="519.04" width="2" height="1.9" fill="#c2545a"/><rect x="606.00" y="519.04" width="2" height="1.9" fill="#c2545a"/><rect x="608.90" y="519.04" width="2" height="1.9" fill="#c2545a"/><rect x="611.90" y="519.04" width="2" height="1.9" fill="#c2545a"/>
<rect x="568.8" y="531.42" width="57.8" height="12.6" rx="1.3" fill="#3e3d40"/><rect x="570.75" y="534.47" width="2.35" height="1.95" fill="#a3b9d5"/><rect x="570.75" y="536.42" width="2.35" height="1.50" fill="#cfe4fd"/><rect x="570.75" y="538.12" width="2.35" height="2.70" fill="#b2cae8"/><rect x="570.75" y="541.12" width="2.35" height="1.60" fill="#bcd3f0"/><rect x="573.90" y="534.47" width="4.20" height="1.95" fill="#a3b9d5"/><rect x="573.90" y="536.42" width="4.20" height="1.50" fill="#cfe4fd"/><rect x="573.90" y="538.12" width="4.20" height="2.70" fill="#b2cae8"/><rect x="573.90" y="541.12" width="4.20" height="1.60" fill="#bcd3f0"/><rect x="578.90" y="534.47" width="2.10" height="1.95" fill="#a3b9d5"/><rect x="578.90" y="536.42" width="2.10" height="1.50" fill="#cfe4fd"/><rect x="578.90" y="538.12" width="2.10" height="2.70" fill="#b2cae8"/><rect x="578.90" y="541.12" width="2.10" height="1.60" fill="#bcd3f0"/><rect x="581.90" y="534.47" width="2.10" height="1.95" fill="#a3b9d5"/><rect x="581.90" y="536.42" width="2.10" height="1.50" fill="#cfe4fd"/><rect x="581.90" y="538.12" width="2.10" height="2.70" fill="#b2cae8"/><rect x="581.90" y="541.12" width="2.10" height="1.60" fill="#bcd3f0"/><rect x="585.00" y="534.47" width="2.10" height="1.95" fill="#a3b9d5"/><rect x="585.00" y="536.42" width="2.10" height="1.50" fill="#cfe4fd"/><rect x="585.00" y="538.12" width="2.10" height="2.70" fill="#b2cae8"/><rect x="585.00" y="541.12" width="2.10" height="1.60" fill="#bcd3f0"/><rect x="587.90" y="534.47" width="2.10" height="1.95" fill="#a3b9d5"/><rect x="587.90" y="536.42" width="2.10" height="1.50" fill="#cfe4fd"/><rect x="587.90" y="538.12" width="2.10" height="2.70" fill="#b2cae8"/><rect x="587.90" y="541.12" width="2.10" height="1.60" fill="#bcd3f0"/><rect x="592.90" y="534.72" width="2" height="1.9" fill="#bd565b"/><rect x="595.90" y="534.72" width="2" height="1.9" fill="#c2545a"/><rect x="599.00" y="534.72" width="2" height="1.9" fill="#c2545a"/><rect x="606.00" y="534.72" width="2" height="1.9" fill="#c2545a"/><rect x="608.90" y="534.72" width="2" height="1.9" fill="#c2545a"/><rect x="611.90" y="534.72" width="2" height="1.9" fill="#c2545a"/>
<rect x="568.8" y="547.10" width="57.8" height="12.6" rx="1.3" fill="#3e3d40"/><rect x="570.75" y="550.15" width="2.35" height="1.95" fill="#a3b9d5"/><rect x="570.75" y="552.10" width="2.35" height="1.50" fill="#cfe4fd"/><rect x="570.75" y="553.80" width="2.35" height="2.70" fill="#b2cae8"/><rect x="570.75" y="556.80" width="2.35" height="1.60" fill="#bcd3f0"/><rect x="573.90" y="550.15" width="4.20" height="1.95" fill="#a3b9d5"/><rect x="573.90" y="552.10" width="4.20" height="1.50" fill="#cfe4fd"/><rect x="573.90" y="553.80" width="4.20" height="2.70" fill="#b2cae8"/><rect x="573.90" y="556.80" width="4.20" height="1.60" fill="#bcd3f0"/><rect x="578.90" y="550.15" width="2.10" height="1.95" fill="#a3b9d5"/><rect x="578.90" y="552.10" width="2.10" height="1.50" fill="#cfe4fd"/><rect x="578.90" y="553.80" width="2.10" height="2.70" fill="#b2cae8"/><rect x="578.90" y="556.80" width="2.10" height="1.60" fill="#bcd3f0"/><rect x="581.90" y="550.15" width="2.10" height="1.95" fill="#a3b9d5"/><rect x="581.90" y="552.10" width="2.10" height="1.50" fill="#cfe4fd"/><rect x="581.90" y="553.80" width="2.10" height="2.70" fill="#b2cae8"/><rect x="581.90" y="556.80" width="2.10" height="1.60" fill="#bcd3f0"/><rect x="585.00" y="550.15" width="2.10" height="1.95" fill="#a3b9d5"/><rect x="585.00" y="552.10" width="2.10" height="1.50" fill="#cfe4fd"/><rect x="585.00" y="553.80" width="2.10" height="2.70" fill="#b2cae8"/><rect x="585.00" y="556.80" width="2.10" height="1.60" fill="#bcd3f0"/><rect x="587.90" y="550.15" width="2.10" height="1.95" fill="#a3b9d5"/><rect x="587.90" y="552.10" width="2.10" height="1.50" fill="#cfe4fd"/><rect x="587.90" y="553.80" width="2.10" height="2.70" fill="#b2cae8"/><rect x="587.90" y="556.80" width="2.10" height="1.60" fill="#bcd3f0"/><rect x="592.90" y="550.40" width="2" height="1.9" fill="#bd565b"/><rect x="595.90" y="550.40" width="2" height="1.9" fill="#c2545a"/><rect x="599.00" y="550.40" width="2" height="1.9" fill="#c2545a"/><rect x="606.00" y="550.40" width="2" height="1.9" fill="#c2545a"/><rect x="608.90" y="550.40" width="2" height="1.9" fill="#c2545a"/><rect x="611.90" y="550.40" width="2" height="1.9" fill="#c2545a"/>
<rect x="568.8" y="562.78" width="57.8" height="12.6" rx="1.3" fill="#3e3d40"/><rect x="570.75" y="565.83" width="2.35" height="1.95" fill="#a3b9d5"/><rect x="570.75" y="567.78" width="2.35" height="1.50" fill="#cfe4fd"/><rect x="570.75" y="569.48" width="2.35" height="2.70" fill="#b2cae8"/><rect x="570.75" y="572.48" width="2.35" height="1.60" fill="#bcd3f0"/><rect x="573.90" y="565.83" width="4.20" height="1.95" fill="#a3b9d5"/><rect x="573.90" y="567.78" width="4.20" height="1.50" fill="#cfe4fd"/><rect x="573.90" y="569.48" width="4.20" height="2.70" fill="#b2cae8"/><rect x="573.90" y="572.48" width="4.20" height="1.60" fill="#bcd3f0"/><rect x="578.90" y="565.83" width="2.10" height="1.95" fill="#a3b9d5"/><rect x="578.90" y="567.78" width="2.10" height="1.50" fill="#cfe4fd"/><rect x="578.90" y="569.48" width="2.10" height="2.70" fill="#b2cae8"/><rect x="578.90" y="572.48" width="2.10" height="1.60" fill="#bcd3f0"/><rect x="581.90" y="565.83" width="2.10" height="1.95" fill="#a3b9d5"/><rect x="581.90" y="567.78" width="2.10" height="1.50" fill="#cfe4fd"/><rect x="581.90" y="569.48" width="2.10" height="2.70" fill="#b2cae8"/><rect x="581.90" y="572.48" width="2.10" height="1.60" fill="#bcd3f0"/><rect x="585.00" y="565.83" width="2.10" height="1.95" fill="#a3b9d5"/><rect x="585.00" y="567.78" width="2.10" height="1.50" fill="#cfe4fd"/><rect x="585.00" y="569.48" width="2.10" height="2.70" fill="#b2cae8"/><rect x="585.00" y="572.48" width="2.10" height="1.60" fill="#bcd3f0"/><rect x="587.90" y="565.83" width="2.10" height="1.95" fill="#a3b9d5"/><rect x="587.90" y="567.78" width="2.10" height="1.50" fill="#cfe4fd"/><rect x="587.90" y="569.48" width="2.10" height="2.70" fill="#b2cae8"/><rect x="587.90" y="572.48" width="2.10" height="1.60" fill="#bcd3f0"/><rect x="592.90" y="566.08" width="2" height="1.9" fill="#bd565b"/><rect x="595.90" y="566.08" width="2" height="1.9" fill="#c2545a"/><rect x="599.00" y="566.08" width="2" height="1.9" fill="#c2545a"/><rect x="606.00" y="566.08" width="2" height="1.9" fill="#c2545a"/><rect x="608.90" y="566.08" width="2" height="1.9" fill="#c2545a"/><rect x="611.90" y="566.08" width="2" height="1.9" fill="#c2545a"/>
<rect x="568.8" y="578.46" width="57.8" height="12.6" rx="1.3" fill="#3e3d40"/><rect x="570.75" y="581.51" width="2.35" height="1.95" fill="#a3b9d5"/><rect x="570.75" y="583.46" width="2.35" height="1.50" fill="#cfe4fd"/><rect x="570.75" y="585.16" width="2.35" height="2.70" fill="#b2cae8"/><rect x="570.75" y="588.16" width="2.35" height="1.60" fill="#bcd3f0"/><rect x="573.90" y="581.51" width="4.20" height="1.95" fill="#a3b9d5"/><rect x="573.90" y="583.46" width="4.20" height="1.50" fill="#cfe4fd"/><rect x="573.90" y="585.16" width="4.20" height="2.70" fill="#b2cae8"/><rect x="573.90" y="588.16" width="4.20" height="1.60" fill="#bcd3f0"/><rect x="578.90" y="581.51" width="2.10" height="1.95" fill="#a3b9d5"/><rect x="578.90" y="583.46" width="2.10" height="1.50" fill="#cfe4fd"/><rect x="578.90" y="585.16" width="2.10" height="2.70" fill="#b2cae8"/><rect x="578.90" y="588.16" width="2.10" height="1.60" fill="#bcd3f0"/><rect x="581.90" y="581.51" width="2.10" height="1.95" fill="#a3b9d5"/><rect x="581.90" y="583.46" width="2.10" height="1.50" fill="#cfe4fd"/><rect x="581.90" y="585.16" width="2.10" height="2.70" fill="#b2cae8"/><rect x="581.90" y="588.16" width="2.10" height="1.60" fill="#bcd3f0"/><rect x="585.00" y="581.51" width="2.10" height="1.95" fill="#a3b9d5"/><rect x="585.00" y="583.46" width="2.10" height="1.50" fill="#cfe4fd"/><rect x="585.00" y="585.16" width="2.10" height="2.70" fill="#b2cae8"/><rect x="585.00" y="588.16" width="2.10" height="1.60" fill="#bcd3f0"/><rect x="587.90" y="581.51" width="2.10" height="1.95" fill="#a3b9d5"/><rect x="587.90" y="583.46" width="2.10" height="1.50" fill="#cfe4fd"/><rect x="587.90" y="585.16" width="2.10" height="2.70" fill="#b2cae8"/><rect x="587.90" y="588.16" width="2.10" height="1.60" fill="#bcd3f0"/><rect x="592.90" y="581.76" width="2" height="1.9" fill="#bd565b"/><rect x="595.90" y="581.76" width="2" height="1.9" fill="#c2545a"/><rect x="599.00" y="581.76" width="2" height="1.9" fill="#c2545a"/><rect x="606.00" y="581.76" width="2" height="1.9" fill="#c2545a"/><rect x="608.90" y="581.76" width="2" height="1.9" fill="#c2545a"/><rect x="611.90" y="581.76" width="2" height="1.9" fill="#c2545a"/>
</g>

<g id="people">
<!-- ===== chairs (back layer) ===== -->
<!-- middle chair -->
<g id="chair-mid">
<path d="M610.3 899.5 L585 908.3 M610.3 899.5 L635.6 908.3" stroke="#5f6a6f" stroke-width="2.4" stroke-linecap="round" fill="none"/>
<rect x="607.3" y="838" width="6" height="70.7" rx="2" fill="#5f6a6f"/>
<path d="M632.4 775.7 L648 775.7 L648 836 L632.4 836 Z" fill="#3e3c40"/>
<path d="M647.8 796 L654.3 796 C654.8 810 655 822 654.7 836.7 L648 836.7 C648.4 822 648.4 810 647.8 796 Z" fill="#838387"/>
<path d="M632.4 775.7 L655 775.7 L655 796 L632.4 796 Z" fill="#3e3c40"/>
<path d="M600.5 831.5 C615 829.5 640 829.5 653 831.5 C654.5 834 654 838 651 840 L601.5 840.5 C598.5 838 598.5 833.5 600.5 831.5 Z" fill="#838387"/>
<rect x="600" y="839.5" width="52" height="1.4" fill="#3e3c40"/>
</g>
<!-- left chair -->
<g id="chair-left">
<path d="M444 899.5 L418.5 908.3 M444 899.5 L469.5 908.3" stroke="#5f6a6f" stroke-width="2.4" stroke-linecap="round" fill="none"/>
<rect x="441.3" y="838" width="5.6" height="71" rx="2" fill="#5f6a6f"/>
<path d="M399 774.4 L432 774.4 L432 834 L413.6 834 C413 810 408 790 399 774.4 Z" fill="#3e3c40"/>
<path d="M396.6 775.5 C396.6 774 398 773.8 400.5 774.4 C407 785 411.5 800 412.5 812 C413.2 820 413.3 828 413.4 834 L407.8 835.7 C407.8 823 407.5 812 405.8 802 C404 792 401 783 396.6 775.5 Z" fill="#838387"/>
<path d="M408 831.5 C425 830.5 450 831 462.5 831.8 C464.5 834 464.5 838 462.5 839.5 L411 840.2 C407.5 839.5 406.5 834 408 831.5 Z" fill="#838387"/>
<rect x="411" y="839.3" width="51" height="1.4" fill="#3e3c40"/>
</g>
<!-- right chair -->
<g id="chair-right">
<path d="M751.2 899.5 L726 908.3 M751.2 899.5 L776.5 908.3" stroke="#5f6a6f" stroke-width="2.4" stroke-linecap="round" fill="none"/>
<rect x="755.3" y="840" width="4.8" height="69" rx="2" fill="#8a9296"/>
<rect x="748.4" y="840" width="5.6" height="69.5" rx="2" fill="#5f6a6f"/>
<path d="M763 774.7 L802.5 774.7 C804.5 774.7 805 776 804.5 778 C801 790 796 805 794.4 820 L794.4 838 L761 838 Z" fill="#3e3c40"/>
<path d="M759.5 775.5 C760.5 774.5 763 774.3 766 774.7 C771 777 770 779 768.5 781 C764 795 762.5 815 763 838 L756 838 C755.7 815 756 795 759.5 775.5 Z" fill="#838387"/>
</g>

<!-- ===== left man: pants/legs ===== -->
<g id="man1-legs">
<path d="M476.9 880.5 L491.5 881.5 L489.5 888.5 L475.5 887 Z" fill="#15232a"/>
<path d="M459.4 885.5 L473.2 885.8 L473 892 L459.5 891.5 Z" fill="#15232a"/>
<path d="M478.5 887 L486.5 887.5 L486 895.5 L477.5 895 Z" fill="#f6aa6e"/>
<path d="M465 891 L470.5 891 L470 899 L465 899 Z" fill="#f6aa6e"/>
<path d="M476 893 L483 892.5 L488.5 899 L490 905.5 L486.5 906.3 L472.5 898 Z" fill="#1b2a33"/>
<path d="M461 899 L470.5 898.5 L476 902 L477.5 906.5 L460 907.5 Z" fill="#1b2a33"/>
<path d="M425 812 C440 810 460 809.5 470 811 C485 812.5 500 816 506 820 C510 822.5 510.5 827 509.8 831 L492 881.5 L476.5 881 L488 838 L482.5 837.5 L473 886 L459.8 886 L463.7 832.8 C450 832.8 433 832.5 427 831.6 C422.5 829 422.5 815 425 812 Z" fill="#1b2a33"/>
</g>

<!-- ===== middle woman: legs ===== -->
<g id="woman-legs">
<path d="M588.7 884 L598.7 884 L598.9 888.2 L588.6 888.2 Z" fill="#0a7cfe"/>
<path d="M551.6 862.3 L561 864.2 L559.8 869 L550.4 867.2 Z" fill="#0a7cfe"/>
<path d="M591.2 888 L598.2 888 L598.8 896.5 L591.5 896.5 Z" fill="#d9805f"/>
<path d="M551 868.5 L558.5 869.8 L557 876 L550 874.5 Z" fill="#d9805f"/>
<path d="M584 897 L598 895.5 L600.8 898 L600.8 903.2 L584.5 903.5 C582 903 582 899 584 897 Z" fill="#1b2a33"/>
<path d="M545 875 L557 875.3 L556.8 884 L547 881.5 L539.5 879.5 C538.5 878.5 538.7 876.5 540 876.3 Z" fill="#1b2a33"/>
<path d="M605 799 L637 799 C639.5 805 640 815 638.7 822 C637.5 828 633 830.5 624 831 C613 831 603 828.5 594.5 826.5 L598.7 884.3 L588.5 884.3 L573.3 827.3 L560.5 865.5 L551 863.5 L564.5 808 C566 803 569 801 574 800.7 C585 800 595 800.5 605 799 Z" fill="#1b2a33"/>
<path d="M582 817 C595 821 610 826 625 829" fill="none" stroke="#14222a" stroke-width="1.2"/>
</g>

<!-- ===== right man: legs ===== -->
<g id="man3-legs">
<path d="M708 889 L718.5 890 L717.5 895.5 L707 894.5 Z" fill="#8cc3ff"/>
<path d="M725 886.5 L735 886 L735.5 891.5 L725.5 892 Z" fill="#8cc3ff"/>
<path d="M709 894.5 L717 895 L718 902 L710.5 902 Z" fill="#c97953"/>
<path d="M726.5 891.5 L734 891.5 L734.5 898.5 L727.5 898.5 Z" fill="#c97953"/>
<path d="M706 901 L718.5 900.5 L722 903.5 L721 907 L703.5 909 C702 908 702.5 905 706 901 Z" fill="#1b2a33"/>
<path d="M722.5 898 L736 897.5 L737.5 901 L735.5 905 L721 907 C720 904 720 900 722.5 898 Z" fill="#1b2a33"/>
<path d="M756 817 L756 831 L732.5 841 L735.5 887 L725 887.5 L715 841 L706 841 L718.5 889.5 L707.5 889.5 L688.5 839.5 C687 834 688.5 830.5 693 827.5 C705 820 720 817.5 735 817 Z" fill="#0a7cfe"/>
<path d="M708.5 831.9 L790 831.5 C794 831.5 795 834 794.4 838 C794 840 793 841 790 841 L709 841 C705.5 840 705 833 708.5 831.9 Z" fill="#838387"/>
</g>

<!-- ===== table legs ===== -->
<path d="M466 799 L472.5 799 L466.5 908 C466 909.5 461.5 909.5 461 908 Z" fill="#899397"/>
<path d="M536 799 L542.3 799 L547.3 907.5 C547 909.5 543.5 909.5 543.2 907.5 Z" fill="#899397"/>
<path d="M680.3 799 L685.5 799 L678.2 908 C677.8 909.5 674.9 909.5 674.6 908 Z" fill="#899397"/>

<!-- ===== right chair seat over legs (front) ===== -->

<!-- ===== monitors & laptop ===== -->
<!-- monitor 1 -->
<path d="M502 739.5 Q502.5 737.2 505 737.2 L508 737.2 L505.5 774.5 L503 774.5 Q500.5 774.5 500.8 772 Z" fill="#3f95fb"/>
<path d="M506.5 737.2 L558.5 737.2 Q561.2 737.2 561 740 L559.5 772 Q559.2 774.7 556.5 774.7 L505.5 774.7 Q503 774.7 503.2 772 L504 740 Q504.2 737.2 506.5 737.2 Z" fill="#1b2a33"/>
<circle cx="531.4" cy="756.3" r="3.3" fill="#fff"/>
<circle cx="534.2" cy="755.5" r="1.1" fill="#1b2a33"/>
<path d="M529 770 L532 770 L532.5 783.5 L530 783.5 Z" fill="#5f6a6f"/>
<path d="M522.5 792 A9 9.5 0 0 1 540.5 792 Z" fill="#1b2a33"/>
<!-- laptop -->
<path d="M559 759 L574.5 759 L586.5 791.2 L565.5 791.2 Z" fill="#1b2a33"/>
<ellipse cx="570" cy="775" rx="1.3" ry="2" fill="#fff"/>

<!-- ===== left man: torso/head ===== -->
<g id="man1-top">
<!-- far arm -->
<path d="M468 783 L495.5 781.8 L496 790.5 L468 791 Z" fill="#3f95fb"/>
<path d="M494.5 783.5 C498 781 502 781.3 505.5 783 C507.5 784.5 507.2 787.5 505 788.8 L495 789.5 Z" fill="#f6aa6e"/>
<!-- torso -->
<path d="M444.2 750.8 C450 748.5 456 747.5 463 747.2 L481 754.4 L478.5 772 L470 786 L466.5 800 L466 811.8 L425 811.8 C425.5 800 427 787 429 777.6 C430.5 770 432 765 434.3 761.5 C437 756 440 752.5 444.2 750.8 Z" fill="#69b0ff"/>
<!-- neck -->
<path d="M463.3 746 L467.5 743.5 L471 745 L474.5 749.5 L475.5 757.5 L465 757 Z" fill="#f6aa6e"/>
<!-- collar -->
<path d="M461 747.2 L466 757.5 L475.5 758 L480.8 754.4 L481.5 761 L469.5 762 L462.5 757.5 L459.5 748.5 Z" fill="#4f9ffc"/>
<!-- near arm -->
<path d="M438.8 753.5 C441.5 752.5 444.5 752.2 446.8 752.6 C448.5 756 449.5 759 449.5 762.4 L454 775.8 L482.6 771.4 L483.5 776.7 L470 783 L455.8 786.6 L446.8 786 C443.5 784 441.5 781 440.6 777.6 C439 770 438.5 760 438.8 753.5 Z" fill="#3f95fb"/>
<path d="M444 782 C448 785 452 785.5 456 785 L470 782 L470 784 L456 787 C451 787.5 446 786.5 443 783.5 Z" fill="#5aa5fc"/>
<!-- near hand -->
<path d="M482 770.3 C485 769 489 768.5 491.5 769.5 C494 771 496.5 774 497.2 777.5 C497.5 779.5 496 781.2 494.2 780.8 L489 777.2 L483.5 777 Z" fill="#f6aa6e"/>
<!-- buttons -->
<circle cx="470.5" cy="763.3" r="0.8" fill="#1d6fe0"/>
<circle cx="466.5" cy="773.6" r="0.8" fill="#1d6fe0"/>
<circle cx="463" cy="788.8" r="0.8" fill="#1d6fe0"/>
<!-- head -->
<path d="M469.5 737 C471 735.5 474 735 478 735 C483 735 487 736 488 738 C488.7 742 488 747 485.5 750.5 C483 753.5 479 754.5 475.5 753.5 C472 752.5 469.8 749 469.2 745 Z" fill="#f6aa6e"/>
<ellipse cx="468.9" cy="741.6" rx="2.4" ry="3.7" fill="#f6aa6e"/>
<path d="M464.24 729.69 Q464.48 728.74 465.19 727.56 Q465.90 726.37 467.32 725.66 Q468.74 724.95 470.88 724.72 Q473.01 724.48 474.67 724.36 Q476.33 724.24 478.22 724.36 Q480.12 724.48 481.07 725.19 Q482.01 725.90 482.96 725.19 Q483.91 724.48 486.04 724.72 Q488.18 724.95 489.83 726.14 Q491.49 727.32 492.20 728.98 Q492.91 730.64 492.44 732.30 Q491.97 733.96 490.78 734.91 Q489.60 735.85 488.89 737.75 Q488.18 739.64 487.70 738.46 Q487.23 737.27 485.33 736.80 Q483.44 736.33 481.07 736.09 Q478.70 735.85 477.04 736.33 Q475.38 736.80 474.67 738.22 Q473.96 739.64 473.25 740.59 Q472.54 741.54 471.82 740.12 Q471.11 738.70 470.17 737.99 Q469.22 737.27 468.03 737.27 Q466.85 737.27 466.37 738.46 Q465.90 739.64 466.14 741.54 Q466.37 743.44 466.97 744.62 Q467.56 745.81 466.61 744.62 Q465.66 743.44 464.83 740.59 Q464.00 737.75 463.77 735.85 Q463.53 733.96 463.77 732.30 Q464.00 730.64 464.24 729.69 Z" fill="#1b2a33"/>
<circle cx="479.5" cy="741.4" r="0.9" fill="#1b2a33"/>
<circle cx="485.1" cy="742.9" r="0.9" fill="#1b2a33"/>
<path d="M482.5 744.5 L484.5 748 L482.3 748.3 Z" fill="#ee8a4a"/>
<path d="M475.7 747.5 Q477.5 749.5 480 748.8" fill="none" stroke="#1b2a33" stroke-width="0.7"/>
</g>
<!-- keyboard left -->
<rect x="488" y="789.2" width="33" height="2.9" rx="0.8" fill="#8cc4ff"/>
<rect x="505" y="789.2" width="16" height="2.9" rx="0.8" fill="#4a9bff"/>

<!-- ===== woman top ===== -->
<g id="woman-top">
<path d="M632.4 775.7 L648 775.7 L648 792 L632.4 792 Z" fill="#3e3c40"/>
<path d="M601.9 751.8 L626.9 752.7 C629 757 630.3 762 630.6 766.6 L632.6 792 L601 792 L600.9 771.3 C600.8 764 601 757 601.9 751.8 Z" fill="#b6d6fd"/>
<path d="M613.9 746.5 L622.2 746 L622.8 753.2 C619 755 616 755 613.3 753.4 Z" fill="#d9805f"/>
<!-- left arm (viewer's left) -->
<path d="M601.5 752.5 C603.5 753.5 604.5 756 604.2 760 L602.8 770 C602.3 774 601 777.5 598.5 778.5 L588 778.6 L583.2 777.5 L583.3 773.8 L596.8 773 C597.8 768 598.5 762 599.2 757 C599.6 754.5 600.3 753 601.5 752.5 Z" fill="#d9805f"/>
<!-- right arm (viewer's right) -->
<path d="M628.8 760 C631 762 632.5 766 632.3 771 L631.3 783.5 C630.8 786.5 628.8 788.5 625.5 788.8 L593 789.5 C591 789.3 590.4 786.5 592 785.5 L622.5 783.2 L625.3 772 C626.2 767 627 762.5 628.8 760 Z" fill="#d9805f"/>
<!-- head -->
<ellipse cx="612.4" cy="738.8" rx="8.9" ry="9.4" fill="#d9805f"/>
<path d="M602.3 738.4 C602 734 602.2 731 602.8 728.7 C603.5 725.5 604.3 723.5 605.6 722.2 C607.5 720.3 609.5 719.4 612 719.4 C615 719.3 617.5 719.6 619.4 720.3 C622 721.3 623.7 723 625 725 C626.7 727 627.7 729 628.2 731.4 C628.8 733.5 628.9 735.8 628.7 737.9 C628.5 739.5 628 740.8 627.3 741.6 C626.3 742.4 625.2 742.7 624 742.6 C622.5 741.8 621.8 740.8 621.3 739.8 L620.4 735.1 C619.8 733.8 619.2 733 618.5 732.4 C617.5 731.2 616.6 730.3 615.7 729.6 L614.8 733.3 L613 730.5 C611.5 729.5 610 729 608.3 728.7 C607 729 606.2 729.5 605.6 730.5 C604.8 732 604.2 734 603.7 736 Z" fill="#1b2a33"/>
<ellipse cx="621.8" cy="736.3" rx="2.2" ry="2.8" fill="#d9805f"/>
<path d="M608.5 719.8 C608.5 717.5 610.5 716.8 612.5 717.5 C611 718 610.5 719 611 720.2 Z" fill="#1b2a33"/>
<circle cx="606" cy="736.8" r="0.8" fill="#1b2a33"/>
<circle cx="611.6" cy="736.3" r="0.8" fill="#1b2a33"/>
<path d="M607.8 739.5 L609 742 L607.4 742 Z" fill="#c43a2a"/>
<path d="M610 743.7 Q611.5 743.5 612.5 742.2" fill="none" stroke="#1b2a33" stroke-width="0.6"/>
</g>
<!-- laptop base -->
<rect x="586.2" y="789.4" width="38.8" height="2.5" rx="0.6" fill="#7d878b"/>

<!-- ===== monitor 2 ===== -->
<path d="M655 775 L659.5 775 L659.5 783 L655 783 Z" fill="#5f6a6f"/>
<path d="M659 775 L663.8 775 L661.8 782 L659 782 Z" fill="#8a8a8e"/>
<path d="M654 792 C654 786 657 783 661 783 C665 783 666.3 787 666.3 792 Z" fill="#3e3c40"/>
<path d="M631 738.2 L629 738.2 C627.5 738.2 627 739.5 627.2 741 L629.5 772 C630 774.5 631.5 775.5 633.5 775.5 L634 775.5 Z" fill="#2e3a40"/>
<path d="M632 738.25 L683.5 738.25 Q686.3 738.25 686.4 741 L687 772 Q687 775 684 775 L634.5 775 Q631.5 775 631.3 772 L629.6 741 Q629.5 738.25 632 738.25 Z" fill="#7db7fa"/>
<g stroke="#fff" stroke-width="1.9" stroke-linecap="butt">
<line x1="643" y1="747.8" x2="670.7" y2="747.8"/>
<line x1="643" y1="752" x2="667.5" y2="752"/>
<line x1="643.5" y1="756.2" x2="670" y2="756.2"/>
<line x1="643.8" y1="760.4" x2="666.8" y2="760.4"/>
</g>

<!-- ===== right man top ===== -->
<g id="man3-top">
<!-- far arm (behind table? on table) -->
<path d="M681 782.5 C690 780 700 777 708 775 L712 783 C704 786 693 788.5 681 789.5 Z" fill="#1b2a33"/>
<path d="M668.3 784 C670 782 673 781.5 676 781.7 L681 782.5 L681.3 789.3 L669.5 789.2 C667.5 788 667 785.5 668.3 784 Z" fill="#c97953"/>
<!-- body -->
<path d="M717 750.7 L742.6 750.7 C746 752 748.5 754 749.5 756 C753.5 762 756 767 757 771.6 C759 780 760.5 790 761 800 L761.5 817 L723 817 L722.3 800 L721.3 782.5 L713.4 771.5 Z" fill="#1b2a33"/>
<!-- near arm -->
<path d="M716.5 751.2 C718.5 750.5 721 750.6 723 751.5 C724.5 753.5 725 756 724.5 758 L704.4 782.5 L723.5 782.5 L723.9 791 L681 790.5 L681 782.6 L697 781.5 C699 776 704 766 709 759 C712 755 714 752.5 716.5 751.2 Z" fill="#1b2a33"/>
<!-- collar -->
<path d="M723.5 747 L738.8 746.5 L739.5 751.5 L722.5 752 Z" fill="#15232a"/>
<!-- neck/face -->
<path d="M721.8 741 L736 741.5 L736.3 747.5 L722 748 Z" fill="#c97953"/>
<path d="M716.5 724.5 C718 721.5 722 720.5 726 721.5 L730 727 L731 738 C731 742 728.5 745.5 724.5 745.5 C720.5 745.5 717.5 742.5 716.5 738.5 L715.7 735 L714.8 733.8 L716.2 732.5 Z" fill="#c97953"/>
<path d="M716 732.6 L714.6 734.3 L716.2 735.1 Z" fill="#d23a2a"/>
<g fill="#0f2a33"><path d="M715.6 719.5 L719.0 715.7 L722.7 714.7 L727.5 713.3 L732.2 714.7 L736.0 716.6 L738.8 719.5 L740.7 723.3 L741.7 728.0 L740.7 731.8 L739.8 735.6 L736.9 739.4 L733.1 742.7 L729.4 743.1 L727.5 738.4 L726.5 733.7 L723.7 728.9 L720.8 726.1 L719.0 722.3 L716.1 722.3 Z"/><circle cx="715.6" cy="719.5" r="1.9"/><circle cx="719.0" cy="715.7" r="1.9"/><circle cx="722.7" cy="714.7" r="1.9"/><circle cx="727.5" cy="713.3" r="1.9"/><circle cx="732.2" cy="714.7" r="1.9"/><circle cx="736.0" cy="716.6" r="1.9"/><circle cx="738.8" cy="719.5" r="1.9"/><circle cx="740.7" cy="723.3" r="1.9"/><circle cx="741.7" cy="728.0" r="1.9"/><circle cx="740.7" cy="731.8" r="1.9"/><circle cx="739.8" cy="735.6" r="1.9"/><circle cx="736.9" cy="739.4" r="1.9"/><circle cx="733.1" cy="742.7" r="1.9"/></g>
<ellipse cx="725.5" cy="732.5" rx="2.4" ry="2.8" fill="#c97953"/>
<path d="M716.5 728.5 L719 728" stroke="#0f2a33" stroke-width="0.7"/>
</g>
<!-- keyboard right -->
<rect x="667.7" y="789" width="32" height="3.3" rx="0.8" fill="#8cc4ff"/>
<rect x="685.5" y="789" width="14.2" height="3.3" rx="0.8" fill="#4a9bff"/>

<!-- ===== table top ===== -->
<path d="M453.5 792 L723.5 792 L723.5 795.7 L453.5 795.7 Z" fill="#3d3b3e"/>
<path d="M461 795.6 L723.5 795.6 L723.5 798.8 L461 798.8 Z" fill="#66747a"/>
</g>

<g id="logo">
<clipPath id="logoclip"><path d="M949.20 880.89L949.50 877.10 L954.10 877.10 L954.40 880.89A12.00 12.00 0 0 1 957.34 881.95L960.00 879.25 L963.53 882.20 L961.32 885.30A12.00 12.00 0 0 1 962.89 888.01L966.67 887.64 L967.46 892.17 L963.79 893.13A12.00 12.00 0 0 1 963.25 896.21L966.37 898.36 L964.07 902.34 L960.65 900.71A12.00 12.00 0 0 1 958.25 902.72L959.26 906.38 L954.94 907.95 L953.36 904.50A12.00 12.00 0 0 1 950.24 904.50L948.66 907.95 L944.34 906.38 L945.35 902.72A12.00 12.00 0 0 1 942.95 900.71L939.53 902.34 L937.23 898.36 L940.35 896.21A12.00 12.00 0 0 1 939.81 893.13L936.14 892.17 L936.93 887.64 L940.71 888.01A12.00 12.00 0 0 1 942.28 885.30L940.07 882.20 L943.60 879.25 L946.26 881.95A12.00 12.00 0 0 1 949.20 880.89 Z"/></clipPath>
<g clip-path="url(#logoclip)">
<circle cx="951.80" cy="892.60" r="17" fill="#f48a20"/>
<path d="M948.06 891.94 L944.28 871.93 L959.32 871.93 L949.36 889.69 Z" fill="#4ea244"/>
<path d="M949.36 889.69 L959.32 871.93 L970.85 881.60 L951.80 888.80 Z" fill="#8dc63f"/>
<path d="M951.80 888.80 L970.85 881.60 L973.47 896.42 L954.24 889.69 Z" fill="#f48a20"/>
<path d="M954.24 889.69 L973.47 896.42 L965.94 909.45 L955.54 891.94 Z" fill="#f7991c"/>
<path d="M955.54 891.94 L965.94 909.45 L951.80 914.60 L955.09 894.50 Z" fill="#fbb040"/>
<path d="M955.09 894.50 L951.80 914.60 L937.66 909.45 L953.10 896.17 Z" fill="#a3192e"/>
<path d="M953.10 896.17 L937.66 909.45 L930.13 896.42 L950.50 896.17 Z" fill="#d2232a"/>
<path d="M950.50 896.17 L930.13 896.42 L932.75 881.60 L948.51 894.50 Z" fill="#ee6a6f"/>
<path d="M948.51 894.50 L932.75 881.60 L944.28 871.93 L948.06 891.94 Z" fill="#0f9547"/>
</g>
<circle cx="951.80" cy="892.60" r="3.80" fill="#fff"/>
<text x="972.9" y="903.9" font-size="34" font-weight="bold" fill="#414143" stroke="#414143" stroke-width="1.1" stroke-linejoin="round" textLength="107.9" lengthAdjust="spacingAndGlyphs">Limble</text>
<text x="1080.6" y="903.9" font-size="17.2" font-weight="bold" fill="#808184" stroke="#808184" stroke-width="0.5" stroke-linejoin="round" textLength="50.3" lengthAdjust="spacingAndGlyphs">CMMS</text>
</g>

</svg>
</body></html>
